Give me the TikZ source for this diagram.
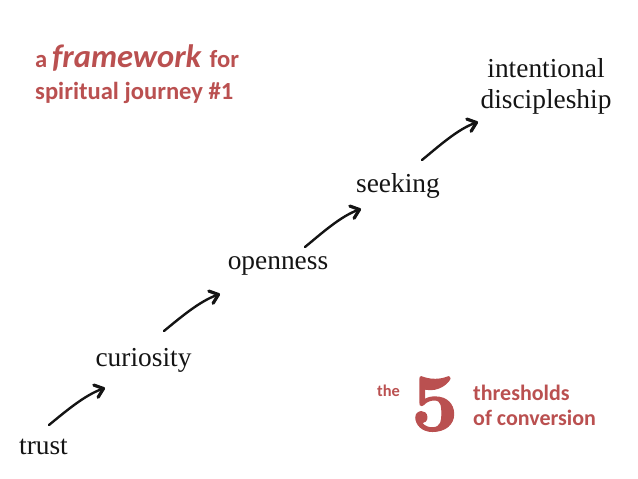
\documentclass[tikz,border=0pt]{standalone}
\usepackage{fontspec}
\setmainfont{Liberation Serif}
\newfontfamily\carlito{Carlito}
\newfontfamily\fivefont{lmroman10-bold.otf}[FakeBold=1.5]
\usetikzlibrary{arrows.meta}
\definecolor{brick}{RGB}{186,80,80}
\definecolor{ink}{RGB}{20,20,20}
\tikzset{
  x=1pt,y=-1pt,
  stage/.style={font=\fontsize{27.4}{31}\selectfont,text=ink,inner sep=0pt,align=center},
  tag/.style={font=\carlito\bfseries\fontsize{24.6}{28}\selectfont,text=brick,inner sep=0pt,anchor=base west},
  small tag/.style={tag,font=\carlito\bfseries\fontsize{22}{26}\selectfont},
  brush/.style={draw=ink,line width=2.4pt,line cap=round,
    -{Straight Barb[length=8pt,width=13pt,line width=3.2pt,round]}},
}
\newcommand{\curvy}[2]{\draw[brush] (#1) .. controls +(17,-14) and +(-20,7) .. (#2);}
\begin{document}
\begin{tikzpicture}
\useasboundingbox (0,0) rectangle (638,479);
\node[stage] (trust) at (43.5,447) {trust};
\node[stage] (curiosity) at (143.5,360) {curiosity};
\node[stage] (openness) at (278,266) {openness};
\node[stage] (seeking) at (398,186) {seeking};
\node[stage] (disc) at (546,86.5) {intentional\\discipleship};
\curvy{[shift={(5.5,-22)}]trust.center}{[shift={(-38.5,28)}]curiosity.center}
\curvy{[shift={(20.5,-29)}]curiosity.center}{[shift={(-58,28)}]openness.center}
\curvy{[shift={(27,-19)}]openness.center}{[shift={(-37,23)}]seeking.center}
\curvy{[shift={(24,-26)}]seeking.center}{[shift={(-68,35.5)}]disc.center}
\node[tag] (a) at (35,67) {a};
\node[tag,font=\carlito\bfseries\itshape\fontsize{32.5}{36}\selectfont] (fw) at (52,67) {framework};
\node[tag] (for) at (209.5,67) {for};
\node[tag] (journey) at (35,99.5) {spiritual journey \#1};
\node[tag,font=\carlito\bfseries\fontsize{16.4}{18}\selectfont] (the) at (377,396) {the};
\node[tag,font=\fivefont\fontsize{82}{82}\selectfont] (five) at (411,430.5) {5};
\node[small tag] (thr) at (473,400.5) {thresholds};
\node[small tag] (conv) at (473,425) {of conversion};
\end{tikzpicture}
\end{document}
